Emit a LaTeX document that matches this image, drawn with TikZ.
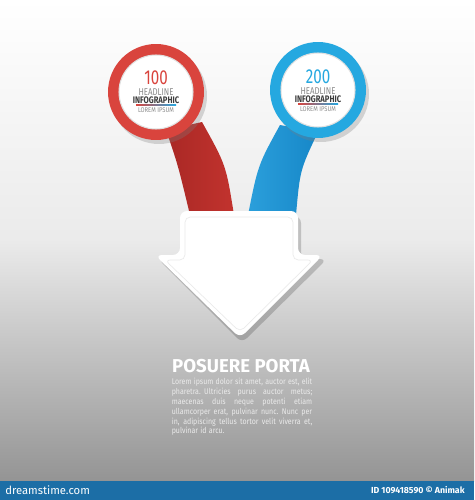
\documentclass[tikz,border=0pt]{standalone}
\usepackage{fontspec}
\setmainfont{Fira Sans}
\usepackage{tikz}
\usetikzlibrary{shadows}

\definecolor{redring}{HTML}{D9443D}
\definecolor{redband}{HTML}{C2332E}
\definecolor{redbandd}{HTML}{A92825}
\definecolor{bluering}{HTML}{25A8E0}
\definecolor{blueband}{HTML}{2B9FDB}
\definecolor{bluebandd}{HTML}{1687C8}
\definecolor{barblue}{HTML}{1C6EA6}
\definecolor{headgray}{HTML}{8A8A8A}
\definecolor{darktext}{HTML}{3C3C3C}
\newcommand{\fline}[1]{\hbox to 94pt{\spaceskip=0.28em plus 3em\relax #1}}

\begin{document}
\begin{tikzpicture}[x=0.02cm, y=-0.02cm]
\tikzstyle{ring}=[circle, minimum size=1.92cm, inner sep=0pt, drop shadow={opacity=0.3, shadow xshift=0.06cm, shadow yshift=-0.08cm}]
\tikzstyle{disc}=[circle, minimum size=1.48cm, inner sep=0pt, fill=white, draw=black!12, line width=0.6pt]
\tikzstyle{num}=[inner sep=0pt, font=\fontsize{11.5}{11.5}\selectfont, xscale=0.75]
\tikzstyle{head}=[inner sep=0pt, text=headgray, font=\fontsize{5.6}{5.6}\selectfont, xscale=0.8]
\tikzstyle{info}=[inner sep=0pt, text=darktext, font=\bfseries\fontsize{5.4}{5.4}\selectfont, xscale=0.8]
\tikzstyle{lorem}=[inner sep=0pt, text=headgray, font=\fontsize{3.9}{3.9}\selectfont, xscale=0.85]
\useasboundingbox (0,0) rectangle (474,500);
% background
\shade[top color=white, bottom color=black!42, middle color=black!8] (0,0) rectangle (474,481);
% bands
\shade[left color=redbandd, right color=redband] (166,130) .. controls (178,165) .. (190,215) -- (234,215) .. controls (226,165) .. (202,122) -- cycle;
\shade[left color=blueband, right color=bluebandd] (280,125) .. controls (258,165) .. (248,215) -- (296,215) .. controls (300,170) .. (318,132) -- cycle;
% circles
\node[ring, fill=redring] (c1) at (156,92) {};
\node[ring, fill=bluering] (c2) at (318,90) {};
\node[disc] (d1) at (c1) {};
\node[disc] (d2) at (c2) {};
\node[num, text=redring] (n1) at (156,78) {100};
\node[num, text=bluering] (n2) at (318,77) {200};
\node[head] (h1) at (156,92) {HEADLINE};
\node[head] (h2) at (318,91) {HEADLINE};
\node[info] (i1) at (156,100) {INFOGRAPHIC};
\node[info] (i2) at (318,99) {INFOGRAPHIC};
\shade[left color=redring, middle color=yellow!80!orange, right color=bluering] (136,104.5) rectangle (176,105.7);
\shade[left color=redring, middle color=yellow!80!orange, right color=bluering] (298,103.5) rectangle (338,104.7);
\node[lorem] (l1) at (156,110) {LOREM IPSUM};
\node[lorem] (l2) at (318,109) {LOREM IPSUM};
% arrow
\fill[black, opacity=0.18, rounded corners=4] (183,216) -- (301,216) -- (301,259) -- (327,259) -- (242,343) -- (158,259) -- (183,259) -- cycle;
\fill[white, rounded corners=4] (180,211) -- (298,211) -- (298,255) -- (323,255) -- (240,338) -- (155,255) -- (180,255) -- cycle;
\draw[black!8, rounded corners=3] (185,217) -- (293,217) -- (293,260) -- (313,260) -- (240,332) -- (165,260) -- (185,260) -- cycle;
% text
\node[inner sep=0pt, text=white, font=\bfseries\fontsize{10.6}{10.6}\selectfont] (title) at (241,366) {POSUERE PORTA};
\node[inner sep=0pt, text=white!92!black, text width=94pt, align=left, font=\fontsize{4.7}{5.6}\selectfont, anchor=north, xscale=0.85] (body) at (242,378) {\fline{Lorem ipsum dolor sit amet, auctor est, elit}
\fline{pharetra. Ultricies purus auctor metus;}
\fline{maecenas duis neque potenti etiam}
\fline{ullamcorper erat, pulvinar nunc. Nunc per}
\fline{in, adipiscing tellus tortor velit viverra et,}
pulvinar id arcu.};
% bottom bar
\fill[barblue] (0,481) rectangle (474,500);
\node[inner sep=0pt, anchor=west, text=white, font=\fontsize{6.4}{6.4}\selectfont] (site) at (5,490) {dreamstime.com};
\node[inner sep=0pt, anchor=east, text=white, font=\bfseries\fontsize{5}{5}\selectfont] (credit) at (465,490) {ID 109418590 © Animak};
\end{tikzpicture}
\end{document}
